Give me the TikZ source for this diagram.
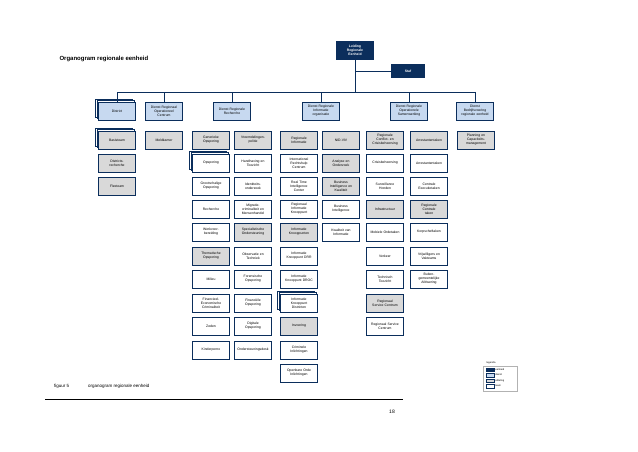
\documentclass[tikz,border=0pt]{standalone}
\usepackage{fontspec}
\setmainfont{Liberation Sans}
\usetikzlibrary{shadows}
\definecolor{navy}{HTML}{0B2E5C}
\definecolor{hdr}{HTML}{C7D9F0}
\definecolor{gry}{HTML}{D9D9D9}
\begin{document}
\begin{tikzpicture}[x=1pt,y=-1pt,
 box/.style={draw=navy,line width=0.8pt,minimum width=37pt,minimum height=18pt,inner sep=0.5pt,align=center,font=\fontsize{3.4}{4}\selectfont,fill=white,text width=36pt},
 w/.style={box},
 g/.style={box,fill=gry},
 h/.style={box,fill=hdr},
 d/.style={box,fill=navy,text=white,font=\fontsize{3.4}{4}\selectfont\bfseries},
 st/.style={double copy shadow={shadow xshift=-1.5pt,shadow yshift=1.5pt,fill=white,draw=navy}},
 ln/.style={draw=navy,line width=0.8pt}]
\useasboundingbox (0,0) rectangle (638,452);
\node[anchor=west,font=\fontsize{6}{7}\selectfont\bfseries] (title) at (56,59) {Organogram regionale eenheid};
% top
\node[d,minimum width=36pt,minimum height=18pt] (lei) at (355,50) {Leiding\\Regionale\\Eenheid};
\node[d,minimum width=33pt,minimum height=13pt,text width=32pt] (staf) at (408,71) {Staf};
\node[h,st] (dis) at (117,111) {District};
\node[h] (roc) at (164,111) {Dienst Regionaal\\Operationeel\\Centrum};
\node[h] (rr) at (232,111) {Dienst Regionale\\Recherche};
\node[h] (rio) at (321,111) {Dienst Regionale\\Informatie\\organisatie};
\node[h] (ros) at (409,111) {Dienst Regionale\\Operationele\\Samenwerking};
\node[h] (bv) at (475,111) {Dienst\\Bedrijfsvoering\\regionale eenheid};
\coordinate (bl) at (117,92); \coordinate (br) at (475,92);
\draw[ln] (bl) -- (br);
\draw[ln] (lei.south) -- (355,92);
\draw[ln] (355,71) -- (staf.west);
\foreach \n in {dis,roc,rr,rio,ros} \draw[ln] (\n.north) -- (\n.north|-bl);
\draw[ln] (br) -- (bv.north);
% district
\node[g,st] (d1) at (117,140) {Basisteam};
\node[g] (d2) at (117,163) {Districts-\\recherche};
\node[g] (d3) at (117,186) {Flexteam};
\node[g] (m1) at (164,140) {Meldkamer};
% recherche
\node[g] (r1) at (211,140) {Generieke\\Opsporing};
\node[w,st] (r2) at (211,163) {Opsporing};
\node[w] (r3) at (211,186) {Grootschalige\\Opsporing};
\node[w] (r4) at (211,209) {Recherche};
\node[w] (r5) at (211,232) {Werkvoor-\\bereiding};
\node[g] (r6) at (211,256) {Thematische\\Opsporing};
\node[w] (r7) at (211,279) {Milieu};
\node[w] (r8) at (211,303) {Financieel-\\Economische\\Criminaliteit};
\node[w] (r9) at (211,326) {Zeden};
\node[w] (r10) at (211,350) {Kinderporno};
\node[g] (s1) at (253,140) {Vreemdelingen-\\politie};
\node[w] (s2) at (253,163) {Handhaving en\\Toezicht};
\node[w] (s3) at (253,186) {Identiteits-\\onderzoek};
\node[w] (s4) at (253,209) {Migratie-\\criminaliteit en\\Mensenhandel};
\node[g] (s5) at (253,232) {Specialistische\\Ondersteuning};
\node[w] (s6) at (253,256) {Observatie en\\Techniek};
\node[w] (s7) at (253,279) {Forensische\\Opsporing};
\node[w] (s8) at (253,303) {Financiële\\Opsporing};
\node[w] (s9) at (253,326) {Digitale\\Opsporing};
\node[w] (s10) at (253,350) {Ondersteuningsdesk};
% informatie
\node[g] (i1) at (299,140) {Regionale\\Informatie};
\node[w] (i2) at (299,163) {International\\Rechtshulp\\Centrum};
\node[w] (i3) at (299,186) {Real Time\\Intelligence\\Center};
\node[w] (i4) at (299,209) {Regionaal\\Informatie\\Knooppunt};
\node[g] (i5) at (299,232) {Informatie\\Knooppunten};
\node[w] (i6) at (299,256) {Informatie\\Knooppunt DRR};
\node[w] (i7) at (299,279) {Informatie\\Knooppunt DROC};
\node[w,st] (i8) at (299,303) {Informatie\\Knooppunt\\Districten};
\node[g] (i9) at (299,326) {Invoering};
\node[w] (i10) at (299,350) {Criminele\\Inlichtingen};
\node[w] (i11) at (299,373) {Openbare Orde\\Inlichtingen};
\node[g] (j1) at (341,140) {NID-VIV};
\node[g] (j2) at (341,163) {Analyse en\\Onderzoek};
\node[g] (j3) at (341,186) {Business\\Intelligence en\\Kwaliteit};
\node[w] (j4) at (341,209) {Business\\Intelligence};
\node[w] (j5) at (341,232) {Kwaliteit van\\Informatie};
% samenwerking
\node[g] (o1) at (385,140) {Regionale\\Conflict- en\\Crisisbeheersing};
\node[w] (o2) at (385,163) {Crisisbeheersing};
\node[w] (o3) at (385,186) {Surveillance\\Honden};
\node[g] (o4) at (385,209) {Infrastructuur};
\node[w] (o5) at (385,232) {Mobiele Ordetaken};
\node[w] (o6) at (385,256) {Verkeer};
\node[w] (o7) at (385,279) {Technisch\\Toezicht};
\node[g] (o8) at (385,303) {Regionaal\\Service Centrum};
\node[w] (o9) at (385,326) {Regionaal Service\\Centrum};
\node[g] (p1) at (429,140) {Arrestantentaken};
\node[w] (p2) at (429,163) {Arrestantentaken};
\node[w] (p3) at (429,186) {Centrale\\Executietaken};
\node[g] (p4) at (429,209) {Regionale\\Centrale\\taken};
\node[w] (p5) at (429,232) {Korpscheftaken};
\node[w] (p6) at (429,256) {Vrijwilligers en\\Vakteams};
\node[w] (p7) at (429,279) {Buiten-\\gemeentelijke\\Afdwering};
\node[g] (b1) at (476,140) {Planning en\\Capaciteits-\\management};
% caption
\node[anchor=west,font=\fontsize{4.5}{5}\selectfont,inner sep=0] (fig) at (54,386) {figuur 5};
\node[anchor=west,font=\fontsize{4.5}{5}\selectfont,inner sep=0] (figt) at (88,386) {organogram regionale eenheid};
\coordinate (l1) at (45,399); \coordinate (l2) at (403,399);
\draw[line width=0.6pt] (l1) -- (l2);
\node[font=\fontsize{5}{6}\selectfont] (pg) at (392,412) {18};
% legend
\begin{scope}[font=\fontsize{2.5}{3}\selectfont]
\node[anchor=west] (lg) at (483,363) {legenda};
\draw[gray!60,line width=0.3pt] (483,366) rectangle (517,391);
\foreach \c/\t [count=\k] in {navy/eenheid,hdr/dienst/afdeling,gry/afdeling,white/team}{
 \node[draw=navy,fill=\c,line width=0.4pt,minimum width=8pt,minimum height=3.5pt,inner sep=0] (lg\k) at (490,364+5.5*\k) {};
 \node[anchor=west,inner sep=1pt] (lt\k) at (lg\k.east) {\t};}
\end{scope}
\end{tikzpicture}
\end{document}
